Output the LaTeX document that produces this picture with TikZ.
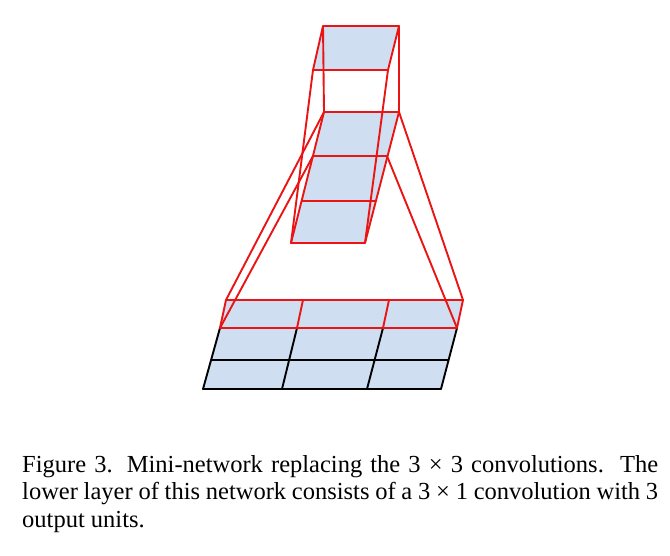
\documentclass[tikz,border=0pt]{standalone}
\usepackage{fontspec}
\setmainfont{Liberation Serif}
\definecolor{cellblue}{RGB}{207,222,240}
\definecolor{rd}{RGB}{235,20,20}
\begin{document}
\begin{tikzpicture}[x=1pt,y=-1pt,
  redl/.style={draw=rd,line width=1.9pt,line join=round},
  blkl/.style={draw=black,line width=1.9pt,line join=round},
  cellfill/.style={fill=cellblue}]
\useasboundingbox (0,0) rectangle (670,556);
% top cell
\coordinate (t1) at (323,26); \coordinate (t2) at (399,26);
\coordinate (t3) at (388,70); \coordinate (t4) at (313,70);
% middle column
\coordinate (m1) at (324,112); \coordinate (m2) at (399,112);
\coordinate (m3) at (387,156); \coordinate (m4) at (313,156);
\coordinate (m5) at (376,201); \coordinate (m6) at (302,201);
\coordinate (m7) at (365,243); \coordinate (m8) at (291,243);
% bottom grid
\coordinate (b1) at (226,300); \coordinate (b2) at (463,300);
\coordinate (b3) at (457,328); \coordinate (b4) at (220,328);
\coordinate (b5) at (448,360); \coordinate (b6) at (211,360);
\coordinate (b7) at (441,389); \coordinate (b8) at (203,389);
\coordinate (d1) at (303,300); \coordinate (d2) at (389,300);
\coordinate (d3) at (297,328); \coordinate (d4) at (383,328);
\coordinate (d5) at (289,360); \coordinate (d6) at (373,360);
\coordinate (d7) at (282,389); \coordinate (d8) at (367,389);
% fills
\fill[cellblue] (t1)--(t2)--(t3)--(t4)--cycle;
\fill[cellblue] (m1)--(m2)--(m7)--(m8)--cycle;
\fill[cellblue] (b1)--(b2)--(b7)--(b8)--cycle;
% black grid
\draw[blkl] (b4)--(b3)--(b7)--(b8)--cycle;
\draw[blkl] (b6)--(b5);
\draw[blkl] (d3)--(d7); \draw[blkl] (d4)--(d8);
% red bottom box
\draw[redl] (b1)--(b2)--(b3)--(b4)--cycle;
\draw[redl] (d1)--(d3); \draw[redl] (d2)--(d4);
% red middle column
\draw[redl] (m1)--(m2)--(m7)--(m8)--cycle;
\draw[redl] (m4)--(m3); \draw[redl] (m6)--(m5);
% red top cell and projections
\draw[redl] (t1)--(t2)--(t3)--(t4)--cycle;
\draw[redl] (t1)--(m1); \draw[redl] (t2)--(m2);
\draw[redl] (t4)--(m8); \draw[redl] (t3)--(m7);
\draw[redl] (m1)--(b1); \draw[redl] (m4)--(b4);
\draw[redl] (m2)--(b2); \draw[redl] (m3)--(b3);
% caption
\node[anchor=north west,inner sep=0pt,text width=636pt,align=justify,
  font=\fontsize{24.5}{27.5}\selectfont] (cap) at (22,455)
{Figure 3. Mini-network replacing the 3 × 3 convolutions.\ \ The lower layer of this network consists of a 3 × 1 convolution with 3 output units.};
\end{tikzpicture}
\end{document}
